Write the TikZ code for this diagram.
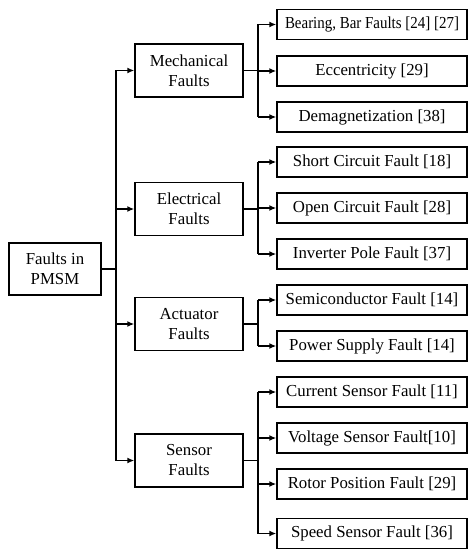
\documentclass[tikz,border=0pt]{standalone}
\usepackage{fontspec}
\setmainfont{Liberation Serif}
\usetikzlibrary{arrows.meta}
\begin{document}
\begin{tikzpicture}[x=1pt,y=1pt,
  box/.style={draw,line width=1.4pt,inner sep=0pt,align=center,font=\fontsize{16.8}{20}\selectfont},
  rootbox/.style={box,minimum width=92pt,minimum height=52pt},
  midbox/.style={box,minimum width=108pt,minimum height=53pt},
  leafbox/.style={box,minimum width=190pt,minimum height=30pt},
  conn/.style={line width=1.4pt},
  arr/.style={conn,-{Latex[length=7pt,width=6pt]}}]
\useasboundingbox (0,0) rectangle (474,-556);
\node[rootbox] (root) at (55,-269) {Faults in\\PMSM};
\node[midbox] (mech) at (189,-70.5) {Mechanical\\Faults};
\node[midbox] (elec) at (189,-209) {Electrical\\Faults};
\node[midbox] (act) at (189,-324) {Actuator\\Faults};
\node[midbox] (sens) at (189,-460.5) {Sensor\\Faults};
\node[leafbox] (l1) at (372,-24.5) {\scalebox{0.89}[1]{Bearing, Bar Faults [24] [27]}};
\node[leafbox] (l2) at (372,-71) {Eccentricity [29]};
\node[leafbox] (l3) at (372,-117) {Demagnetization [38]};
\node[leafbox] (l4) at (372,-162) {Short Circuit Fault [18]};
\node[leafbox] (l5) at (372,-208) {Open Circuit Fault [28]};
\node[leafbox] (l6) at (372,-254) {Inverter Pole Fault [37]};
\node[leafbox] (l7) at (372,-300) {Semiconductor Fault [14]};
\node[leafbox] (l8) at (372,-346) {Power Supply Fault [14]};
\node[leafbox] (l9) at (372,-392) {Current Sensor Fault [11]};
\node[leafbox] (l10) at (372,-438) {Voltage Sensor Fault[10]};
\node[leafbox] (l11) at (372,-484) {Rotor Position Fault [29]};
\node[leafbox] (l12) at (372,-533.5) {Speed Sensor Fault [36]};
% main trunk
\coordinate (t) at (116,-269);
\draw[conn] (root.east) -- (t);
\draw[conn] (t|-mech.west) -- (t|-sens.west);
\foreach \m in {mech,elec,act,sens}{\draw[arr] (t|-\m.west) -- (\m.west);}
% sub trunks
\coordinate (s) at (258,0);
\foreach \m/\a/\b in {mech/l1/l3, elec/l4/l6, act/l7/l8, sens/l9/l12}{
  \draw[conn] (\m.east) -- (s|-\m.east);
  \draw[conn] (s|-\a.west) -- (s|-\b.west);
}
\foreach \l in {l1,l2,l3,l4,l5,l6,l7,l8,l9,l10,l11,l12}{\draw[arr] (s|-\l.west) -- (\l.west);}
\end{tikzpicture}
\end{document}
